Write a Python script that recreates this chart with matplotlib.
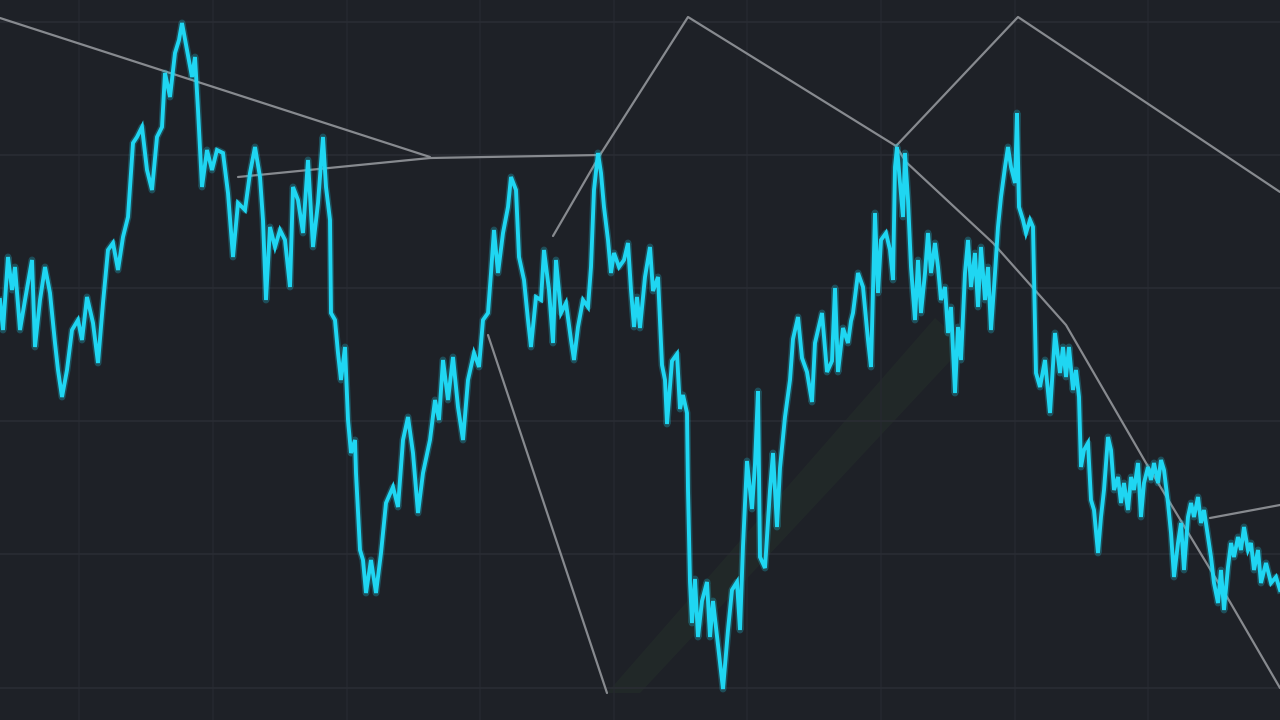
import matplotlib.pyplot as plt

# price trace (x = bar position, y = level, axis inverted)
bar_x = [
    0, 3, 8, 12, 15, 20, 25, 32, 35, 40, 45, 50, 55, 58, 62, 67, 72, 78, 82, 87,
    93, 98, 103, 108, 113, 118, 123, 128, 133, 137, 142, 147, 152, 157, 162, 165,
    170, 175, 179, 182, 187, 192, 195, 198, 202, 207, 212,
    217, 223, 228, 233, 238, 245, 250, 255, 260, 263, 266, 270, 275, 280, 285,
    290, 293, 298, 303, 308, 313, 318, 323, 326, 330, 331, 335, 338, 341, 345,
    348, 351, 355, 356, 360, 363, 366, 371, 376, 381, 386, 393, 398, 403, 408,
    413, 418, 423, 430, 435,
    439, 443, 448, 453, 458, 463, 468, 474, 479, 483, 488, 491, 494, 498, 503,
    508, 511, 516, 519, 524, 528, 531, 536, 541, 544, 549, 553, 556, 561, 566,
    571, 574, 578, 583, 588, 591, 594, 598, 601, 604, 608, 611, 614, 619, 624,
    628, 631, 634, 637,
    640, 645, 650, 653, 658, 662, 665, 667, 672, 677, 680, 683, 687, 688, 690,
    692, 695, 698, 702, 707, 710, 713, 718, 723, 728, 732, 737, 740, 743, 747,
    752, 755, 758, 760, 765, 770, 773, 777, 780, 785, 790, 793, 798, 802, 807,
    812, 815, 822, 827, 832, 835, 838, 843, 848, 851,
    853, 858, 863, 868, 871, 875, 878, 881, 886, 890, 893, 895, 897, 900, 903,
    905, 908, 911, 915, 918, 921, 925, 928, 931, 935, 938, 941, 945, 948, 951,
    955, 958, 961, 965, 968, 971, 975, 978, 981, 985, 988, 991, 995, 998, 1001,
    1005, 1008, 1011, 1015, 1017, 1019, 1023, 1026, 1030, 1033, 1036, 1040, 1045,
    1050, 1055, 1060, 1063,
    1066, 1069, 1073, 1076, 1079, 1081, 1084, 1088, 1091, 1094, 1098, 1101, 1104,
    1108, 1111, 1114, 1118, 1121, 1124, 1128, 1131, 1134, 1138, 1141, 1144, 1148,
    1151, 1154, 1158, 1161, 1164, 1168, 1171, 1174, 1178, 1181, 1184, 1188, 1191,
    1194, 1198, 1201, 1204, 1208, 1211, 1214, 1218, 1221, 1224, 1228, 1231, 1234,
    1238, 1241, 1244, 1248, 1251, 1254, 1258, 1261, 1266, 1271, 1276, 1280,
]
level = [
    300, 330, 257, 290, 267, 330, 300, 260, 347, 300, 267, 293, 343, 370, 397, 370, 330, 320, 340, 297,
    323, 363, 303, 250, 243, 270, 237, 217, 143, 137, 127, 170, 190, 137, 127, 73,
    97, 53, 40, 23, 50, 77, 57, 110, 187, 150, 170,
    150, 153, 193, 257, 203, 210, 173, 147, 177, 220, 300, 227, 247, 230, 240,
    287, 187, 200, 233, 160, 247, 203, 137, 187, 220, 313, 320, 353, 380, 347,
    420, 453, 440, 473, 550, 560, 593, 560, 593, 553, 503, 487, 507, 440, 417,
    453, 513, 473, 440, 400,
    420, 360, 400, 357, 407, 440, 380, 353, 367, 320, 313, 273, 230, 273, 233,
    207, 177, 190, 257, 280, 320, 347, 297, 300, 250, 290, 343, 260, 313, 303,
    340, 360, 327, 300, 307, 267, 190, 153, 173, 207, 240, 273, 253, 267, 260,
    243, 290, 327, 297,
    328, 277, 247, 291, 277, 365, 380, 424, 361, 354, 409, 395, 413, 490, 582,
    623, 579, 637, 601, 582, 637, 601, 645, 689, 630, 590, 582, 630, 546, 461,
    509, 464, 391, 557, 568, 490, 453, 527, 468, 417, 380, 339, 317, 358, 372,
    402, 343, 313, 372, 361, 288, 372, 328, 343, 321,
    313, 273, 287, 340, 367, 213, 293, 240, 233, 250, 280, 167, 147, 183, 217,
    153, 200, 267, 320, 260, 313, 273, 233, 273, 243, 267, 300, 287, 333, 307,
    393, 327, 360, 273, 240, 287, 253, 307, 247, 300, 267, 330, 273, 227, 197,
    167, 147, 167, 183, 113, 207, 220, 233, 220, 227, 373, 387, 360,
    413, 333, 373, 347,
    377, 347, 390, 370, 397, 467, 450, 443, 500, 510, 553, 517, 490,
    437, 450, 490, 477, 503, 483, 510, 477, 490, 463, 517, 483, 467,
    480, 463, 483, 460, 470, 503, 533, 577, 543, 523, 570, 517, 503,
    517, 497, 523, 510, 537, 557, 583, 603, 570, 610, 567, 543, 557,
    537, 550, 527, 550, 543, 570, 550, 583, 563, 583, 577, 590,
]

# zigzag / trend lines drawn over the price
wedge_top_x = [0, 430]
wedge_top_y = [18, 157]
wedge_base_x = [238, 430, 600]
wedge_base_y = [177, 158, 155]
zigzag_x = [553, 600, 688, 896, 1018, 1280]
zigzag_y = [236, 155, 17, 146, 17, 192]
trend_x = [896, 906, 993, 1066, 1146, 1230, 1280]
trend_y = [146, 162, 243, 325, 463, 602, 688]
drop_x = [488, 607]
drop_y = [335, 693]
tail_x = [1210, 1280]
tail_y = [518, 505]
band_x = [607, 935, 965, 640]
band_y = [693, 318, 345, 693]

bg = '#1e2127'
fig = plt.figure(figsize=(12.8, 7.2), dpi=100, facecolor=bg)
ax = fig.add_axes([0, 0, 1, 1], facecolor=bg)

ax.set_xticks([79, 213, 347, 480, 614, 747, 881, 1015, 1148])
ax.set_yticks([22, 155, 288, 421, 554, 688])
ax.grid(True, axis='y', color='#2a2d34', linewidth=1.2)
ax.grid(True, axis='x', color='#25282f', linewidth=1.2)
ax.tick_params(length=0, labelbottom=False, labelleft=False)
for s in ax.spines.values():
    s.set_visible(False)

ax.fill(band_x, band_y, color='#2a3a2c', alpha=0.3, linewidth=0)

line_kw = dict(color='#878a8f', linewidth=1.6, solid_capstyle='round')
ax.plot(wedge_top_x, wedge_top_y, **line_kw)
ax.plot(wedge_base_x, wedge_base_y, **line_kw)
ax.plot(zigzag_x, zigzag_y, **line_kw)
ax.plot(trend_x, trend_y, **line_kw)
ax.plot(drop_x, drop_y, **line_kw)
ax.plot(tail_x, tail_y, **line_kw)

# soft glow under the price line
ax.plot(bar_x, level, color='#1fd6f2', linewidth=5, alpha=0.25)
ax.plot(bar_x, level, color='#1fd6f2', linewidth=2.8, solid_joinstyle='miter')

ax.set_xlim(0, 1280)
ax.set_ylim(720, 0)

plt.savefig('out.png', dpi=100, facecolor=bg)
